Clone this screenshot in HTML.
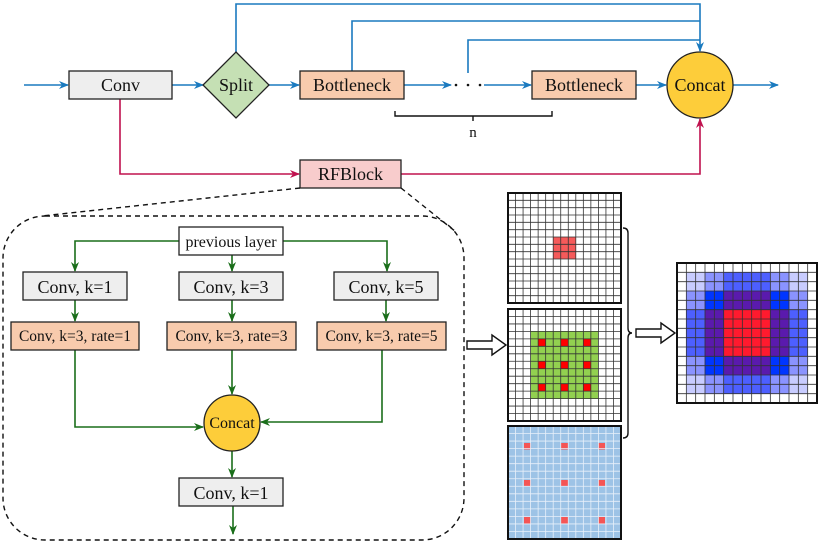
<!DOCTYPE html>
<html><head><meta charset="utf-8"><style>
html,body{margin:0;padding:0;background:#fff}
svg{display:block}
text{font-family:"Liberation Serif",serif;fill:#111}
</style></head><body>
<svg id="s" width="820" height="544" viewBox="0 0 820 544" xmlns="http://www.w3.org/2000/svg">
<defs>
<marker id="ab" markerWidth="10" markerHeight="8" refX="9" refY="4" orient="auto" markerUnits="userSpaceOnUse"><path d="M0,0 L10,4 L0,8 L3,4 Z" fill="#1a7abf"/></marker>
<marker id="ar" markerWidth="10" markerHeight="8" refX="9" refY="4" orient="auto" markerUnits="userSpaceOnUse"><path d="M0,0 L10,4 L0,8 L3,4 Z" fill="#c0124f"/></marker>
<marker id="ag" markerWidth="10" markerHeight="8" refX="9" refY="4" orient="auto" markerUnits="userSpaceOnUse"><path d="M0,0 L10,4 L0,8 L3,4 Z" fill="#1a6e1a"/></marker>
</defs>
<g stroke="#1a7abf" stroke-width="1.6" fill="none">
<line x1="24" y1="85" x2="68" y2="85" marker-end="url(#ab)"/>
<line x1="172" y1="85" x2="203" y2="85" marker-end="url(#ab)"/>
<line x1="269" y1="85" x2="299" y2="85" marker-end="url(#ab)"/>
<line x1="404" y1="85" x2="451" y2="85" marker-end="url(#ab)"/>
<line x1="484" y1="85" x2="531" y2="85" marker-end="url(#ab)"/>
<line x1="636" y1="85" x2="666" y2="85" marker-end="url(#ab)"/>
<line x1="733" y1="85" x2="778" y2="85" marker-end="url(#ab)"/>
<polyline points="236,52 236,4 700,4 700,51" marker-end="url(#ab)"/>
<polyline points="352,71 352,21 700,21"/>
<polyline points="468,73 468,40 700,40"/>
</g>
<g stroke="#c0124f" stroke-width="1.6" fill="none">
<polyline points="120,99 120,174 299,174" marker-end="url(#ar)"/>
<polyline points="401,174 700,174 700,119" marker-end="url(#ar)"/>
</g>
<circle cx="456" cy="85" r="1.3" fill="#111"/><circle cx="468" cy="85" r="1.3" fill="#111"/><circle cx="480" cy="85" r="1.3" fill="#111"/>
<polyline points="395,111 395,116 552,116 552,111" stroke="#111" stroke-width="1.4" fill="none"/>
<line x1="473" y1="116" x2="473" y2="121" stroke="#111" stroke-width="1.4"/>
<text x="473" y="137" font-size="15" text-anchor="middle">n</text>
<rect x="69" y="71" width="103" height="28" fill="#eeeeee" stroke="#222" stroke-width="1.3"/>
<text x="120.5" y="91" font-size="18" text-anchor="middle">Conv</text>
<polygon points="236,52 269,85 236,118 203,85" fill="#c5e0b4" stroke="#222" stroke-width="1.3"/>
<text x="236" y="91" font-size="18" text-anchor="middle">Split</text>
<rect x="300" y="71" width="104" height="28" fill="#f8cbad" stroke="#222" stroke-width="1.3"/>
<text x="352" y="91" font-size="18" text-anchor="middle">Bottleneck</text>
<rect x="532" y="71" width="104" height="28" fill="#f8cbad" stroke="#222" stroke-width="1.3"/>
<text x="584" y="91" font-size="18" text-anchor="middle">Bottleneck</text>
<circle cx="700" cy="85" r="33" fill="#fdcd3a" stroke="#222" stroke-width="1.3"/>
<text x="700" y="91" font-size="18" text-anchor="middle">Concat</text>
<rect x="300" y="160" width="101" height="28" fill="#f8cccc" stroke="#222" stroke-width="1.3"/>
<text x="350.5" y="180" font-size="18" text-anchor="middle">RFBlock</text>
<g stroke="#111" stroke-width="1.4" fill="none" stroke-dasharray="5,4">
<line x1="300" y1="188" x2="42" y2="216"/>
<line x1="401" y1="188" x2="456" y2="232"/>
<rect x="3" y="216" width="461" height="324" rx="42" ry="42"/>
</g>
<g stroke="#1a6e1a" stroke-width="1.6" fill="none">
<polyline points="179,241 75,241 75,271" marker-end="url(#ag)"/>
<polyline points="283,241 387,241 387,271" marker-end="url(#ag)"/>
<line x1="232" y1="255" x2="232" y2="271" marker-end="url(#ag)"/>
<line x1="75" y1="300" x2="75" y2="321" marker-end="url(#ag)"/>
<line x1="232" y1="300" x2="232" y2="321" marker-end="url(#ag)"/>
<line x1="386" y1="300" x2="386" y2="321" marker-end="url(#ag)"/>
<line x1="232" y1="350" x2="232" y2="394" marker-end="url(#ag)"/>
<polyline points="75,350 75,427 203,427" marker-end="url(#ag)"/>
<polyline points="382,350 382,422 261,422" marker-end="url(#ag)"/>
<line x1="232" y1="451" x2="232" y2="477" marker-end="url(#ag)"/>
<line x1="233" y1="506" x2="233" y2="534" marker-end="url(#ag)"/>
</g>
<rect x="179" y="227" width="104" height="28" fill="#fff" stroke="#222" stroke-width="1.3"/>
<text x="231" y="247" font-size="16" text-anchor="middle">previous layer</text>
<g font-size="18" text-anchor="middle">
<rect x="23" y="272" width="104" height="28" fill="#eeeeee" stroke="#222" stroke-width="1.3"/><text x="75" y="293">Conv, k=1</text>
<rect x="179" y="272" width="104" height="28" fill="#eeeeee" stroke="#222" stroke-width="1.3"/><text x="231" y="293">Conv, k=3</text>
<rect x="334" y="272" width="104" height="28" fill="#eeeeee" stroke="#222" stroke-width="1.3"/><text x="386" y="293">Conv, k=5</text>
<rect x="179" y="478" width="104" height="28" fill="#eeeeee" stroke="#222" stroke-width="1.3"/><text x="231" y="499">Conv, k=1</text>
</g>
<g font-size="15.5" text-anchor="middle">
<rect x="11" y="322" width="128" height="28" fill="#f8cbad" stroke="#222" stroke-width="1.3"/><text x="75" y="341">Conv, k=3, rate=1</text>
<rect x="167" y="322" width="129" height="28" fill="#f8cbad" stroke="#222" stroke-width="1.3"/><text x="231.5" y="341">Conv, k=3, rate=3</text>
<rect x="317" y="322" width="129" height="28" fill="#f8cbad" stroke="#222" stroke-width="1.3"/><text x="381.5" y="341">Conv, k=3, rate=5</text>
</g>
<circle cx="232" cy="423" r="28" fill="#fdcd3a" stroke="#222" stroke-width="1.3"/>
<text x="232" y="428" font-size="16" text-anchor="middle">Concat</text>
<polygon points="467,341 492,341 492,335 506,345 492,355 492,349 467,349" fill="#fff" stroke="#111" stroke-width="1.4"/>
<polygon points="636,329 661,329 661,323 675,333 661,343 661,337 636,337" fill="#fff" stroke="#111" stroke-width="1.4"/>
<path d="M623,228 Q628,228 628,233 L628,328 Q628,333 632,333 Q628,333 628,338 L628,433 Q628,438 623,438" stroke="#111" stroke-width="1.4" fill="none"/>
<g id="grids"></g>
</svg>
<script>
var NS="http://www.w3.org/2000/svg",g=document.getElementById("grids");
function r(x,y,w,h,f,s,sw){var e=document.createElementNS(NS,"rect");e.setAttribute("x",x);e.setAttribute("y",y);e.setAttribute("width",w);e.setAttribute("height",h);e.setAttribute("fill",f||"none");if(s){e.setAttribute("stroke",s);e.setAttribute("stroke-width",sw||1);}g.appendChild(e);}
function l(x1,y1,x2,y2,s,w){var e=document.createElementNS(NS,"line");e.setAttribute("x1",x1);e.setAttribute("y1",y1);e.setAttribute("x2",x2);e.setAttribute("y2",y2);e.setAttribute("stroke",s);e.setAttribute("stroke-width",w);g.appendChild(e);}
function grid(x,y,w,h,n,bg,lc,cells){r(x,y,w,h,bg);var cw=w/n,ch=h/n;
 if(cells)cells(x,y,cw,ch);
 for(var i=1;i<n;i++){l(x+i*cw,y,x+i*cw,y+h,lc,0.8);l(x,y+i*ch,x+w,y+i*ch,lc,0.8);}
 r(x,y,w,h,"none","#111",2);}
grid(508,193,113,110,15,"#fff","#333",function(x,y,cw,ch){r(x+6*cw,y+6*ch,3*cw,3*ch,"#f55a5a");});
grid(508,309,113,112,15,"#fff","#333",function(x,y,cw,ch){r(x+3*cw,y+3*ch,9*cw,9*ch,"#92d050");
 [4,7,10].forEach(function(a){[4,7,10].forEach(function(b){r(x+a*cw,y+b*ch,cw,ch,"#ff0000");});});});
grid(508,426,113,113,15,"#9dc3e6","#e8f0fa",function(){
 [524,561,598].forEach(function(a){[443,480,517].forEach(function(b){r(a,b,7,6.5,"#f45555");});});});
grid(677,263,140,140,15,"#fff","#333",function(x,y,cw,ch){
 for(var i=0;i<13;i++)for(var j=0;j<13;j++){var di=Math.abs(i-6),dj=Math.abs(j-6),d=Math.max(di,dj),m=Math.min(di,dj),c;
  if(d<=2)c="#ff1a2e";else if(d<=4)c=(m>=3)?"#0035ff":"#5a1aad";else c=(m<=2)?"#4d5fff":(m<=4?"#8a93ff":"#c8ccff");
  r(x+(i+1)*cw,y+(j+1)*ch,cw+0.3,ch+0.3,c);}});
</script>
</body></html>
